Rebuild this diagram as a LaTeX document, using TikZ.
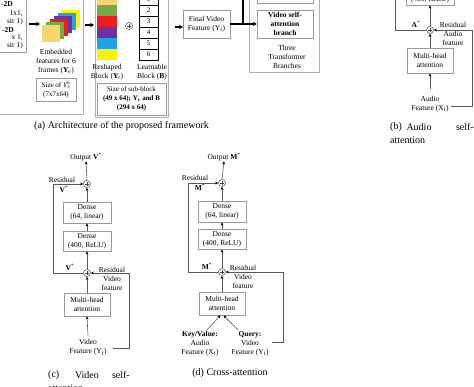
\documentclass[tikz,border=0pt]{standalone}
\usepackage{fontspec}
\setmainfont{Liberation Serif}
\usetikzlibrary{arrows.meta}
\definecolor{corg}{HTML}{FBD46D}
\definecolor{cgrn}{HTML}{70AD47}
\definecolor{cred}{HTML}{EE1C1C}
\definecolor{cpur}{HTML}{7030A0}
\definecolor{ccya}{HTML}{1FA2E8}
\definecolor{cyel}{HTML}{FFF200}
\newcommand\dsz{\fontsize{7.5}{9}\selectfont}
\newcommand\ssz{\fontsize{7}{9}\selectfont}
\newcommand\capsz{\fontsize{10}{12}\selectfont}
\tikzset{
  cont/.style={draw=black!30, line width=0.6pt, inner sep=0pt},
  gbox/.style={draw=black!40, line width=0.6pt, align=center, font=\dsz, inner sep=0pt},
  txt/.style={align=center, font=\dsz, inner sep=0pt},
  lbox/.style={draw=black, line width=0.8pt, font=\ssz, inner sep=0pt, minimum width=19pt, minimum height=11pt},
  ln/.style={draw=black!65, line width=0.6pt},
  arr/.style={draw=black!65, line width=0.6pt, -{Stealth[length=3.2pt,width=2.8pt,color=black,fill=black]}},
  thk/.style={draw=black, line width=1.5pt, -{Stealth[length=4pt,width=4.5pt]}},
  thl/.style={draw=black, line width=1.2pt},
  capt/.style={font=\capsz, inner sep=0pt},
  opl/.style={circle, draw=black!75, line width=0.5pt, minimum size=7pt, inner sep=0pt,
    path picture={\draw[line width=0.5pt, black!75]
      ([xshift=-2pt]path picture bounding box.center) -- ([xshift=2pt]path picture bounding box.center)
      ([yshift=-2pt]path picture bounding box.center) -- ([yshift=2pt]path picture bounding box.center);}},
}
\begin{document}
\begin{tikzpicture}[x=1pt,y=-1pt]
\useasboundingbox (0,0) rectangle (474,387);
\clip (0,0) rectangle (474,387);

% ================= (a) =================
\node[cont, minimum width=88pt, minimum height=124pt] (c1) at (39,52) {};
\node[gbox, minimum width=36pt, minimum height=62pt] (lb) at (8,21) {};
\node[txt, anchor=east] (l1) at (13,4) {-\textbf{2D}};
\node[txt, anchor=east] (l2) at (23,14) {1x1,};
\node[txt, anchor=east] (l3) at (23,22) {str 1)};
\node[txt, anchor=east] (l4) at (14,30) {-\textbf{2D}};
\node[txt, anchor=east] (l5) at (23,38) {x 1,};
\node[txt, anchor=east] (l6) at (23,46) {str 1)};
\coordinate (a1s) at (29,24);
\coordinate (a1e) at (40,24);
\draw[thk] (a1s) -- (a1e);
\foreach \i/\c in {5/cyel,4/ccya,3/cpur,2/cred,1/cgrn,0/corg}
  \fill[\c] ({42+4*\i},{25-3*\i}) rectangle ++(18,17);
\node[txt] (emb) at (56,62) {Embedded\\features for 6\\frames (\textbf{Y}\textsubscript{e})};
\node[gbox, minimum width=40pt, minimum height=23pt, font=\ssz] (szb) at (56,89.5)
  {Size of \textit{Y}\textsubscript{\textit{e}}\kern-3pt\textsuperscript{6}\\(7x7x64)};

\coordinate (a2s) at (85,25);
\coordinate (a2e) at (94,25);
\draw[thk] (a2s) -- (a2e);

\node[cont, minimum width=73pt, minimum height=130pt] (c2) at (131.5,52) {};
\foreach \k/\c in {0/corg,1/cgrn,2/cred,3/cpur,4/ccya,5/cyel}
  \fill[\c] (97,{-6+11*\k}) rectangle ++(20,11);
\node[opl] (opa) at (129,26) {};
\foreach \k in {1,...,6}
  \node[lbox] (L\k) at (148.5,{-0.5+11*(\k-1)}) {\k};
\node[txt] (rsl) at (107,72.5) {Reshaped\\Block (\textbf{Y}\textsubscript{r})};
\node[txt] (lbl) at (152,72.5) {Learnable\\Block (\textbf{B})};
\node[gbox, minimum width=69pt, minimum height=32pt, font=\ssz] (sbb) at (131.5,99)
  {Size of sub-block\\\textbf{(49 x 64); Y\textsubscript{r} and B}\\\textbf{(294 x 64)}};

\coordinate (a3s) at (175,27);
\draw[thk] (a3s) -- (a3s -| 183,0);
\node[gbox, minimum width=47pt, minimum height=28pt] (fvf) at (206.5,24) {Final Video\\Feature (Y\textsubscript{f})};

\node[cont, minimum width=70pt, minimum height=84pt] (c3) at (284,30) {};
\node[gbox, minimum width=56pt, minimum height=28pt, font=\dsz\bfseries] (vsa) at (285,24)
  {Video self-\\attention\\branch};
\node[gbox, minimum width=56pt, minimum height=16pt] (ub) at (285,-5) {};
\node[txt] (ttb) at (287,57) {Three\\Transformer\\Branches};
\coordinate (jn) at (243,24);
\coordinate (jt) at (243,-12);
\draw[thk] (fvf.east) -- (vsa.west);
\draw[thl] (jn) -- (jt);

\node[capt] (capa) at (121.5,126) {(a) Architecture of the proposed framework};

% ================= (b) =================
\node[gbox, minimum width=48pt, minimum height=20pt] (d4b) at (430,-5) {Dense\\(400, ReLU)};
\node[opl] (opb) at (430,30) {};
\node[txt] (asl) at (416,24) {\textbf{A}\textsuperscript{*}};
\coordinate (bl1) at (395,30);
\coordinate (bl2) at (395,-12);
\draw[ln] (opb.west) -- (bl1) -- (bl2);
\node[gbox, minimum width=46pt, minimum height=25pt] (mhb) at (430,60.5) {Multi-head\\attention};
\draw[arr] (mhb.north) -- (opb.south);
\draw[arr] (opb.north) -- (d4b.south);
\node[txt] (aud) at (430,104) {Audio\\Feature (X\textsubscript{f})};
\draw[arr] ([yshift=7pt]aud.north) -- (mhb.south);
\coordinate (br1) at (451,106);
\coordinate (br2) at (472,106);
\coordinate (br3) at (472,30);
\draw[arr] (br1) -- (br2) -- (br3) -- (opb.east);
\node[txt] (rab) at (453,34) {Residual\\Audio\\feature};
\node[capt, anchor=west] (cb1) at (390,127) {(b)};
\node[capt] (cb2) at (419,127) {Audio};
\node[capt, anchor=east] (cb3) at (474,127) {self-};
\node[capt, anchor=west] (cb4) at (390,140) {attention};

% ================= (c) =================
\node[txt] (outc) at (86,157) {Output \textbf{V}\textsuperscript{*}};
\node[opl] (opc1) at (87,184) {};
\node[txt] (rc1) at (62,180) {Residual};
\node[txt] (vc1) at (64,189) {\textbf{V}\textsuperscript{*}};
\node[gbox, minimum width=48pt, minimum height=21pt] (d64c) at (87,212.5) {Dense\\(64, linear)};
\node[gbox, minimum width=48pt, minimum height=20pt] (d4c) at (87,241) {Dense\\(400, ReLU)};
\node[opl] (opc2) at (87,273) {};
\node[txt] (vc2) at (70,267) {\textbf{V}\textsuperscript{*}};
\node[gbox, minimum width=46pt, minimum height=23pt] (mhc) at (87,304.5) {Multi-head\\attention};
\node[txt] (vidc) at (88,347.5) {Video\\Feature (Y\textsubscript{f})};
\draw[arr] ([yshift=4pt]vidc.north) -- (mhc.south);
\draw[arr] (mhc.north) -- (opc2.south);
\draw[arr] (opc2.north) -- (d4c.south);
\draw[arr] (d4c.north) -- (d64c.south);
\draw[arr] (d64c.north) -- (opc1.south);
\draw[arr] (opc1.north) -- (outc.south);
\coordinate (cl1) at (53,273);
\coordinate (cl2) at (53,184);
\draw[arr] (opc2.west) -- (cl1) -- (cl2) -- (opc1.west);
\coordinate (cr1) at (113,348);
\coordinate (cr2) at (129,348);
\coordinate (cr3) at (129,273);
\draw[arr] (cr1) -- (cr2) -- (cr3) -- (opc2.east);
\node[txt] (rvc) at (112,278.5) {Residual\\Video\\feature};
\node[capt, anchor=west] (cc1) at (48,375) {(c)};
\node[capt] (cc2) at (87,375) {Video};
\node[capt, anchor=east] (cc3) at (130,375) {self-};
\node[capt, anchor=west] (cc4) at (48,388) {attention};

% ================= (d) =================
\node[txt] (outd) at (224,157) {Output \textbf{M}\textsuperscript{*}};
\node[opl] (opd1) at (222,183) {};
\node[txt] (rd1) at (195,178) {Residual};
\node[txt] (md1) at (200,187) {\textbf{M}\textsuperscript{*}};
\node[gbox, minimum width=48pt, minimum height=21pt] (d64d) at (222,211.5) {Dense\\(64, linear)};
\node[gbox, minimum width=48pt, minimum height=20pt] (d4d) at (222,239) {Dense\\(400, ReLU)};
\node[opl] (opd2) at (222,272) {};
\node[txt] (md2) at (207,266) {\textbf{M}\textsuperscript{*}};
\node[gbox, minimum width=46pt, minimum height=23pt] (mhd) at (222,303.5) {Multi-head\\attention};
\node[txt] (kv) at (200,343.5) {\textbf{Key/Value:}\\Audio\\Feature (X\textsubscript{f})};
\node[txt] (qv) at (250,343.5) {\textbf{Query:}\\Video\\Feature (Y\textsubscript{f})};
\draw[arr] ([xshift=7pt,yshift=1pt]kv.north) -- ([xshift=-1.5pt]mhd.south);
\draw[arr] ([xshift=-12pt,yshift=1pt]qv.north) -- ([xshift=1.5pt]mhd.south);
\draw[arr] (mhd.north) -- (opd2.south);
\draw[arr] (opd2.north) -- (d4d.south);
\draw[arr] (d4d.north) -- (d64d.south);
\draw[arr] (d64d.north) -- (opd1.south);
\draw[arr] (opd1.north) -- (outd.south);
\coordinate (dl1) at (188,272);
\coordinate (dl2) at (188,183);
\draw[arr] (opd2.west) -- (dl1) -- (dl2) -- (opd1.west);
\coordinate (dr1) at (272,342);
\coordinate (dr2) at (283,342);
\coordinate (dr3) at (283,272);
\draw[arr] (dr1) -- (dr2) -- (dr3) -- (opd2.east);
\node[txt] (rvd) at (243,277) {Residual\\Video\\feature};
\node[capt] (cd) at (230,373) {(d) Cross-attention};
\end{tikzpicture}
\end{document}
